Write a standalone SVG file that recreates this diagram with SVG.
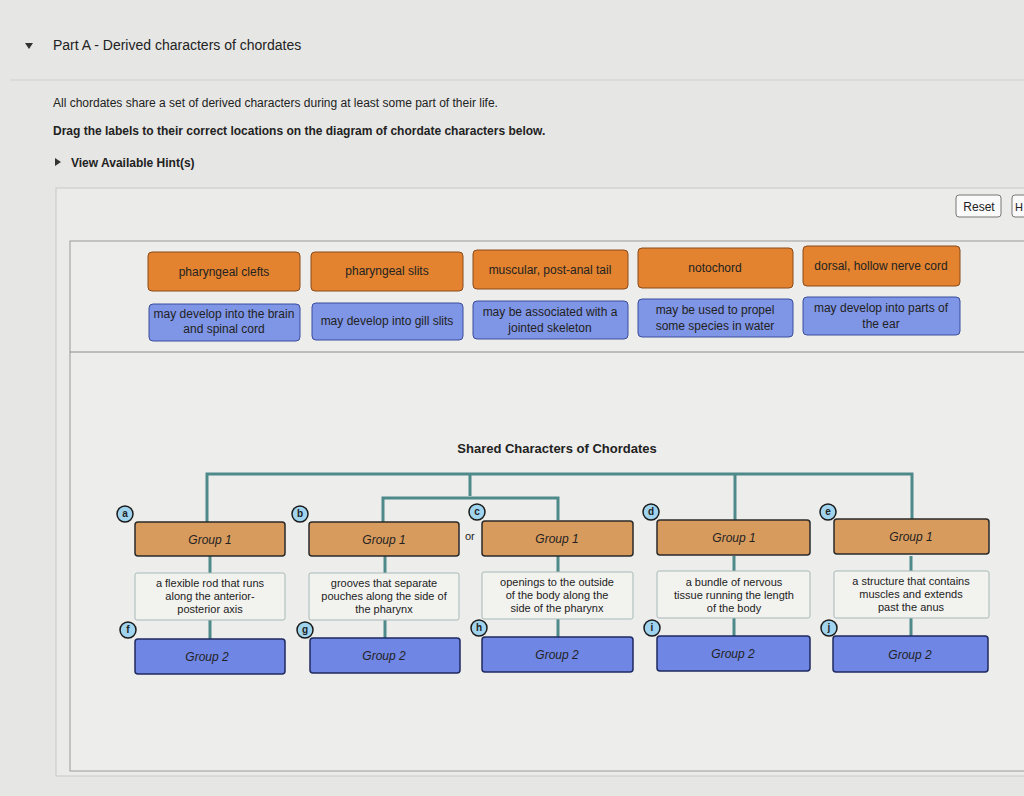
<svg xmlns="http://www.w3.org/2000/svg" width="1024" height="796" viewBox="0 0 1024 796">
<style>
text{font-family:"Liberation Sans",Arial,sans-serif;fill:#222}
.or{fill:#e3822f;stroke:#8a4a1a;stroke-width:1}
.bl{fill:#7f95e6;stroke:#3a4c9c;stroke-width:1}
.g1{fill:#d89b5e;stroke:#2a2a2a;stroke-width:1.5}
.g2{fill:#6f86e4;stroke:#1f2a60;stroke-width:1.5}
.ds{fill:#f2f2ef;stroke:#a9b9b9;stroke-width:1}
.t{font-size:12px;text-anchor:middle}
.gi{font-size:12px;text-anchor:middle;font-style:italic}
.dt{font-size:11px;text-anchor:middle}
.c{fill:#9fd3ee;stroke:#1a1a1a;stroke-width:1.5}
.cl{font-size:10px;text-anchor:middle;font-weight:bold}
.ln{stroke:#4f8a8a;stroke-width:3;fill:none}
</style>
<rect width="1024" height="796" fill="#e6e6e4"/>
<line x1="10" y1="80" x2="1024" y2="80" stroke="#d0d0d0"/>
<path d="M25 43 l8 0 l-4 6z" fill="#333"/>
<text x="53" y="50" font-size="14">Part A - Derived characters of chordates</text>
<text x="53" y="107" font-size="12">All chordates share a set of derived characters during at least some part of their life.</text>
<text x="53" y="135" font-size="12" font-weight="bold">Drag the labels to their correct locations on the diagram of chordate characters below.</text>
<path d="M55 158 l6 4 l-6 4z" fill="#333"/>
<text x="71" y="167" font-size="12" font-weight="bold" fill="#2a2a2a">View Available Hint(s)</text>
<rect x="56" y="188" width="980" height="588" fill="#ebebe9" stroke="#c8c8c8"/>
<rect x="956" y="195" width="45" height="22" rx="3" fill="#fafafa" stroke="#777"/>
<text x="979" y="211" font-size="12" text-anchor="middle">Reset</text>
<rect x="1012" y="195" width="20" height="22" rx="3" fill="#fafafa" stroke="#777"/>
<text x="1015" y="211" font-size="11">H</text>
<rect x="70" y="241" width="960" height="530" fill="#ededeb" stroke="#9a9a9a"/>
<line x1="70" y1="352" x2="1024" y2="352" stroke="#8a8a8a"/>
<g id="labels">
<g id="l1"><rect class="or" x="148" y="252" width="152" height="39" rx="4"/><text class="t" x="224" y="276">pharyngeal clefts</text></g>
<g id="l2"><rect class="or" x="311" y="252" width="152" height="39" rx="4"/><text class="t" x="387" y="275">pharyngeal slits</text></g>
<g id="l3"><rect class="or" x="473" y="250" width="155" height="39" rx="4"/><text class="t" x="550" y="274">muscular, post-anal tail</text></g>
<g id="l4"><rect class="or" x="638" y="248" width="155" height="40" rx="4"/><text class="t" x="715" y="272">notochord</text></g>
<g id="l5"><rect class="or" x="803" y="246" width="157" height="40" rx="4"/><text class="t" x="881" y="270">dorsal, hollow nerve cord</text></g>
<g id="l6"><rect class="bl" x="149" y="304" width="151" height="37" rx="4"/><text class="t" x="224" y="318">may develop into the brain</text><text class="t" x="224" y="333">and spinal cord</text></g>
<g id="l7"><rect class="bl" x="312" y="303" width="151" height="37" rx="4"/><text class="t" x="387" y="325">may develop into gill slits</text></g>
<g id="l8"><rect class="bl" x="473" y="301" width="155" height="38" rx="4"/><text class="t" x="550" y="316">may be associated with a</text><text class="t" x="550" y="332">jointed skeleton</text></g>
<g id="l9"><rect class="bl" x="638" y="299" width="155" height="38" rx="4"/><text class="t" x="715" y="314">may be used to propel</text><text class="t" x="715" y="330">some species in water</text></g>
<g id="l10"><rect class="bl" x="803" y="297" width="157" height="38" rx="4"/><text class="t" x="881" y="312">may develop into parts of</text><text class="t" x="881" y="328">the ear</text></g>
</g>
<text x="557" y="453" font-size="13" font-weight="bold" text-anchor="middle">Shared Characters of Chordates</text>
<g id="connectors" class="ln">
<path d="M207 522 V474 H912 V520"/>
<path d="M470 474 V496"/>
<path d="M383 522 V498 H558 V520"/>
<path d="M735 474 V520"/>
<path d="M210 556 V640 M385 556 V640 M558 556 V640 M734 556 V640 M911 556 V640"/>
</g>
<text x="465" y="540" font-size="11">or</text>
<g id="a"><rect class="g1" x="135" y="522" width="150" height="34" rx="3"/><text class="gi" x="210" y="544">Group 1</text></g>
<g id="b"><rect class="g1" x="309" y="522" width="150" height="34" rx="3"/><text class="gi" x="384" y="544">Group 1</text></g>
<g id="c"><rect class="g1" x="482" y="521" width="151" height="35" rx="3"/><text class="gi" x="557" y="543">Group 1</text></g>
<g id="d"><rect class="g1" x="657" y="520" width="153" height="35" rx="3"/><text class="gi" x="734" y="542">Group 1</text></g>
<g id="e"><rect class="g1" x="834" y="519" width="155" height="35" rx="3"/><text class="gi" x="911" y="541">Group 1</text></g>
<g id="da"><rect class="ds" x="135" y="573" width="150" height="47" rx="2"/><text class="dt" x="210" y="587">a flexible rod that runs</text><text class="dt" x="210" y="600">along the anterior-</text><text class="dt" x="210" y="613">posterior axis</text></g>
<g id="db"><rect class="ds" x="309" y="573" width="150" height="47" rx="2"/><text class="dt" x="384" y="587">grooves that separate</text><text class="dt" x="384" y="600">pouches along the side of</text><text class="dt" x="384" y="613">the pharynx</text></g>
<g id="dc"><rect class="ds" x="482" y="572" width="151" height="47" rx="2"/><text class="dt" x="557" y="586">openings to the outside</text><text class="dt" x="557" y="599">of the body along the</text><text class="dt" x="557" y="612">side of the pharynx</text></g>
<g id="dd"><rect class="ds" x="657" y="571" width="153" height="47" rx="2"/><text class="dt" x="734" y="586">a bundle of nervous</text><text class="dt" x="734" y="599">tissue running the length</text><text class="dt" x="734" y="612">of the body</text></g>
<g id="de"><rect class="ds" x="834" y="571" width="155" height="47" rx="2"/><text class="dt" x="911" y="585">a structure that contains</text><text class="dt" x="911" y="598">muscles and extends</text><text class="dt" x="911" y="611">past the anus</text></g>
<g id="f"><rect class="g2" x="135" y="639" width="150" height="35" rx="3"/><text class="gi" x="207" y="661">Group 2</text></g>
<g id="g"><rect class="g2" x="310" y="638" width="150" height="35" rx="3"/><text class="gi" x="384" y="660">Group 2</text></g>
<g id="h"><rect class="g2" x="482" y="637" width="151" height="35" rx="3"/><text class="gi" x="557" y="659">Group 2</text></g>
<g id="i"><rect class="g2" x="657" y="636" width="153" height="35" rx="3"/><text class="gi" x="733" y="658">Group 2</text></g>
<g id="j"><rect class="g2" x="833" y="636" width="155" height="36" rx="3"/><text class="gi" x="910" y="659">Group 2</text></g>
<g id="markers">
<circle class="c" cx="125" cy="514" r="8"/><text class="cl" x="125" y="517">a</text>
<circle class="c" cx="300" cy="514" r="8"/><text class="cl" x="300" y="517">b</text>
<circle class="c" cx="477" cy="512" r="8"/><text class="cl" x="477" y="515">c</text>
<circle class="c" cx="651" cy="512" r="8"/><text class="cl" x="651" y="515">d</text>
<circle class="c" cx="828" cy="512" r="8"/><text class="cl" x="828" y="515">e</text>
<circle class="c" cx="128" cy="630" r="8"/><text class="cl" x="128" y="633">f</text>
<circle class="c" cx="305" cy="630" r="8"/><text class="cl" x="305" y="633">g</text>
<circle class="c" cx="479" cy="628" r="8"/><text class="cl" x="479" y="631">h</text>
<circle class="c" cx="652" cy="628" r="8"/><text class="cl" x="652" y="631">i</text>
<circle class="c" cx="829" cy="628" r="8"/><text class="cl" x="829" y="631">j</text>
</g>
</svg>
